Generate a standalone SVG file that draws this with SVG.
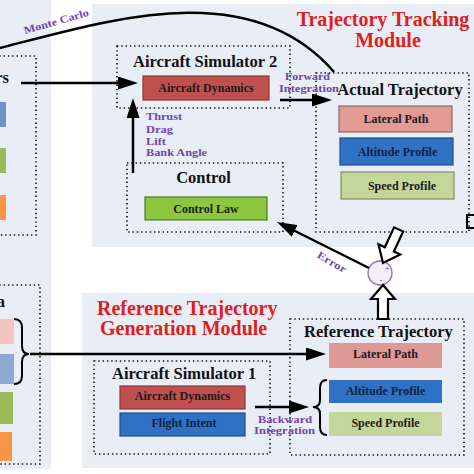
<svg xmlns="http://www.w3.org/2000/svg" width="474" height="474" viewBox="0 0 474 474">
<defs>
<marker id="ah" markerUnits="userSpaceOnUse" markerWidth="20" markerHeight="13" refX="2" refY="6.5" orient="auto">
<path d="M0,0 L20,6.5 L0,13 Z" fill="#000"/>
</marker>
<style>
.panel{fill:#e8edf6}
.dot{fill:none;stroke:#111;stroke-width:1.6;stroke-dasharray:1.4 2.9}
.t{font-family:"Liberation Serif","Times New Roman",serif;font-weight:bold}
.h{font-size:16.5px;fill:#111}
.title{font-size:20px;fill:#e0201b}
.lbl{font-size:12px;fill:#1c1c1c;text-anchor:middle}
.nv{fill:#0f1f45}
.pu{font-size:10.5px;fill:#7048a3}
.conn{stroke:#000;stroke-width:2.5;fill:none}
.red{fill:#c0504d;stroke:#8c3836;stroke-width:1.2}
.pink{fill:#e29a95;stroke:#8a6a68;stroke-width:1.2}
.blue{fill:#2f72c4;stroke:#1f4e8c;stroke-width:1.2}
.olive{fill:#c4d79b;stroke:#7f8f5a;stroke-width:1.2}
.green{fill:#8dc63f;stroke:#4e7a25;stroke-width:1.2}
.hollow{fill:#fff;stroke:#000;stroke-width:2.2;stroke-linejoin:miter}
</style>
</defs>
<rect width="474" height="474" fill="#fff"/>

<!-- panels -->
<rect class="panel" x="-5" y="0" width="56" height="469"/>
<rect class="panel" x="92" y="4" width="390" height="243"/>
<rect class="panel" x="82" y="293" width="400" height="175"/>

<!-- left panel (partial) -->
<g id="left-top">
<rect class="dot" x="-5" y="56" width="41" height="179"/>
<text class="t h" x="9" y="83" text-anchor="end">rs</text>
<rect x="-2" y="102" width="8" height="25" fill="#6f93c8"/>
<rect x="-2" y="148" width="8" height="25" fill="#9bbb59"/>
<rect x="-2" y="195" width="8" height="25" fill="#f79646"/>
</g>
<g id="left-bottom">
<rect class="dot" x="-5" y="285" width="45" height="179"/>
<text class="t h" x="5" y="307" text-anchor="end">a</text>
<rect x="-2" y="319" width="16" height="25" fill="#f2c4c2"/>
<rect x="-2" y="354" width="16" height="30" fill="#8eaad4"/>
<rect x="-2" y="392" width="15" height="32" fill="#9bbb59"/>
<rect x="-2" y="432" width="14" height="29" fill="#f79646"/>
<path d="M14,319 Q22,319 22,328 L22,346 Q22,354 29,354 Q22,354 22,362 L22,376 Q22,384 14,384" fill="none" stroke="#000" stroke-width="2"/>
</g>

<!-- Trajectory Tracking Module -->
<g id="tracking-title">
<text class="t title" x="383" y="26" text-anchor="middle">Trajectory Tracking</text>
<text class="t title" x="388" y="47" text-anchor="middle">Module</text>
</g>
<g id="aircraft-sim-2">
<rect class="dot" x="117" y="46" width="173" height="62"/>
<text class="t h" x="133" y="67">Aircraft Simulator 2</text>
<rect class="red" x="143" y="76" width="126" height="24"/>
<text class="t lbl" x="206" y="92">Aircraft Dynamics</text>
</g>
<g id="control">
<rect class="dot" x="127" y="163" width="156" height="69"/>
<text class="t h" x="203.5" y="183" text-anchor="middle">Control</text>
<rect class="green" x="145" y="197" width="122" height="23"/>
<text class="t lbl" x="206" y="213">Control Law</text>
</g>
<g id="actual-trajectory">
<rect class="dot" x="316" y="73" width="153" height="159"/>
<text class="t h" x="400" y="95" text-anchor="middle">Actual Trajectory</text>
<rect class="pink" x="339" y="106" width="113" height="26"/>
<text class="t lbl" x="396" y="123">Lateral Path</text>
<rect class="blue" x="340" y="138" width="113" height="27"/>
<text class="t lbl nv" x="397.5" y="156">Altitude Profile</text>
<rect class="olive" x="341" y="172" width="113" height="27"/>
<text class="t lbl" x="402" y="190">Speed Profile</text>
</g>
<rect x="467" y="215" width="10" height="13" fill="none" stroke="#000" stroke-width="2"/>

<!-- Reference Trajectory Generation Module -->
<g id="reference-title">
<text class="t title" x="97" y="315">Reference Trajectory</text>
<text class="t title" x="100" y="335">Generation Module</text>
</g>
<g id="aircraft-sim-1">
<rect class="dot" x="94" y="361" width="176" height="93"/>
<text class="t h" x="112" y="379">Aircraft Simulator 1</text>
<rect class="red" x="120" y="386" width="125" height="23"/>
<text class="t lbl" x="182.5" y="400">Aircraft Dynamics</text>
<rect class="blue" x="120" y="413" width="125" height="23"/>
<text class="t lbl nv" x="184" y="427">Flight Intent</text>
</g>
<g id="reference-trajectory">
<rect class="dot" x="290" y="319" width="174" height="136"/>
<text class="t h" x="304" y="337">Reference Trajectory</text>
<rect x="329" y="343" width="113" height="25" fill="#de9896"/>
<text class="t lbl" x="385.5" y="358">Lateral Path</text>
<rect x="329" y="380" width="113" height="23" fill="#2f72c4"/>
<text class="t lbl nv" x="385.5" y="395">Altitude Profile</text>
<rect x="329" y="412" width="113" height="24" fill="#c4d79b"/>
<text class="t lbl" x="385.5" y="427">Speed Profile</text>
<path d="M327,380 Q320,380 320,388 L320,400 Q320,407 313,407 Q320,407 320,414 L320,427 Q320,435 327,435" fill="none" stroke="#000" stroke-width="2"/>
</g>

<!-- summing junction -->
<g id="sum">
<circle cx="380" cy="273" r="12" fill="#f3f0f8" stroke="#8a6fb8" stroke-width="1.3"/>
<text x="387" y="271" font-family="Liberation Sans, sans-serif" font-size="8" fill="#7a4fa8" text-anchor="middle">+</text>
<text x="381" y="283" font-family="Liberation Sans, sans-serif" font-size="9" fill="#7a4fa8" text-anchor="middle">-</text>
</g>

<!-- connectors -->
<g id="connectors">
<path class="conn" d="M0,48 C110,20 250,-25 334,72"/>
<line class="conn" x1="21" y1="83" x2="120" y2="83" marker-end="url(#ah)"/>
<line class="conn" x1="133" y1="173" x2="133" y2="116" marker-end="url(#ah)"/>
<line class="conn" x1="280" y1="100" x2="314" y2="100" marker-end="url(#ah)"/>
<line class="conn" x1="369" y1="268" x2="293" y2="230" marker-end="url(#ah)"/>
<line class="conn" x1="30" y1="354" x2="308" y2="354" marker-end="url(#ah)"/>
<line class="conn" x1="255" y1="407" x2="291" y2="407" marker-end="url(#ah)"/>
<polygon class="hollow" transform="translate(383,263) rotate(25)" points="0,0 -12,-15 -5,-15 -5,-37 5,-37 5,-15 12,-15"/>
<polygon class="hollow" points="383,285 371,299 378,299 378,319 388,319 388,299 395,299"/>
</g>

<!-- connector labels -->
<g id="labels">
<text class="t pu" x="25" y="34" font-size="11" textLength="67" lengthAdjust="spacingAndGlyphs" transform="rotate(-16 25 34)">Monte Carlo</text>
<text class="t pu" x="146" y="120" textLength="36" lengthAdjust="spacingAndGlyphs">Thrust</text>
<text class="t pu" x="146" y="133" textLength="27" lengthAdjust="spacingAndGlyphs">Drag</text>
<text class="t pu" x="146" y="145" textLength="20" lengthAdjust="spacingAndGlyphs">Lift</text>
<text class="t pu" x="146" y="156" textLength="61" lengthAdjust="spacingAndGlyphs">Bank Angle</text>
<text class="t pu" x="285" y="80" textLength="45" lengthAdjust="spacingAndGlyphs">Forward</text>
<text class="t pu" x="279" y="92" textLength="60" lengthAdjust="spacingAndGlyphs">Integration</text>
<text class="t pu" x="258" y="423" textLength="54" lengthAdjust="spacingAndGlyphs">Backward</text>
<text class="t pu" x="254" y="434" textLength="61" lengthAdjust="spacingAndGlyphs">Integration</text>
<text class="t pu" x="330" y="265" font-size="11" textLength="32" lengthAdjust="spacingAndGlyphs" text-anchor="middle" transform="rotate(30 330 265)">Error</text>
</g>
</svg>
